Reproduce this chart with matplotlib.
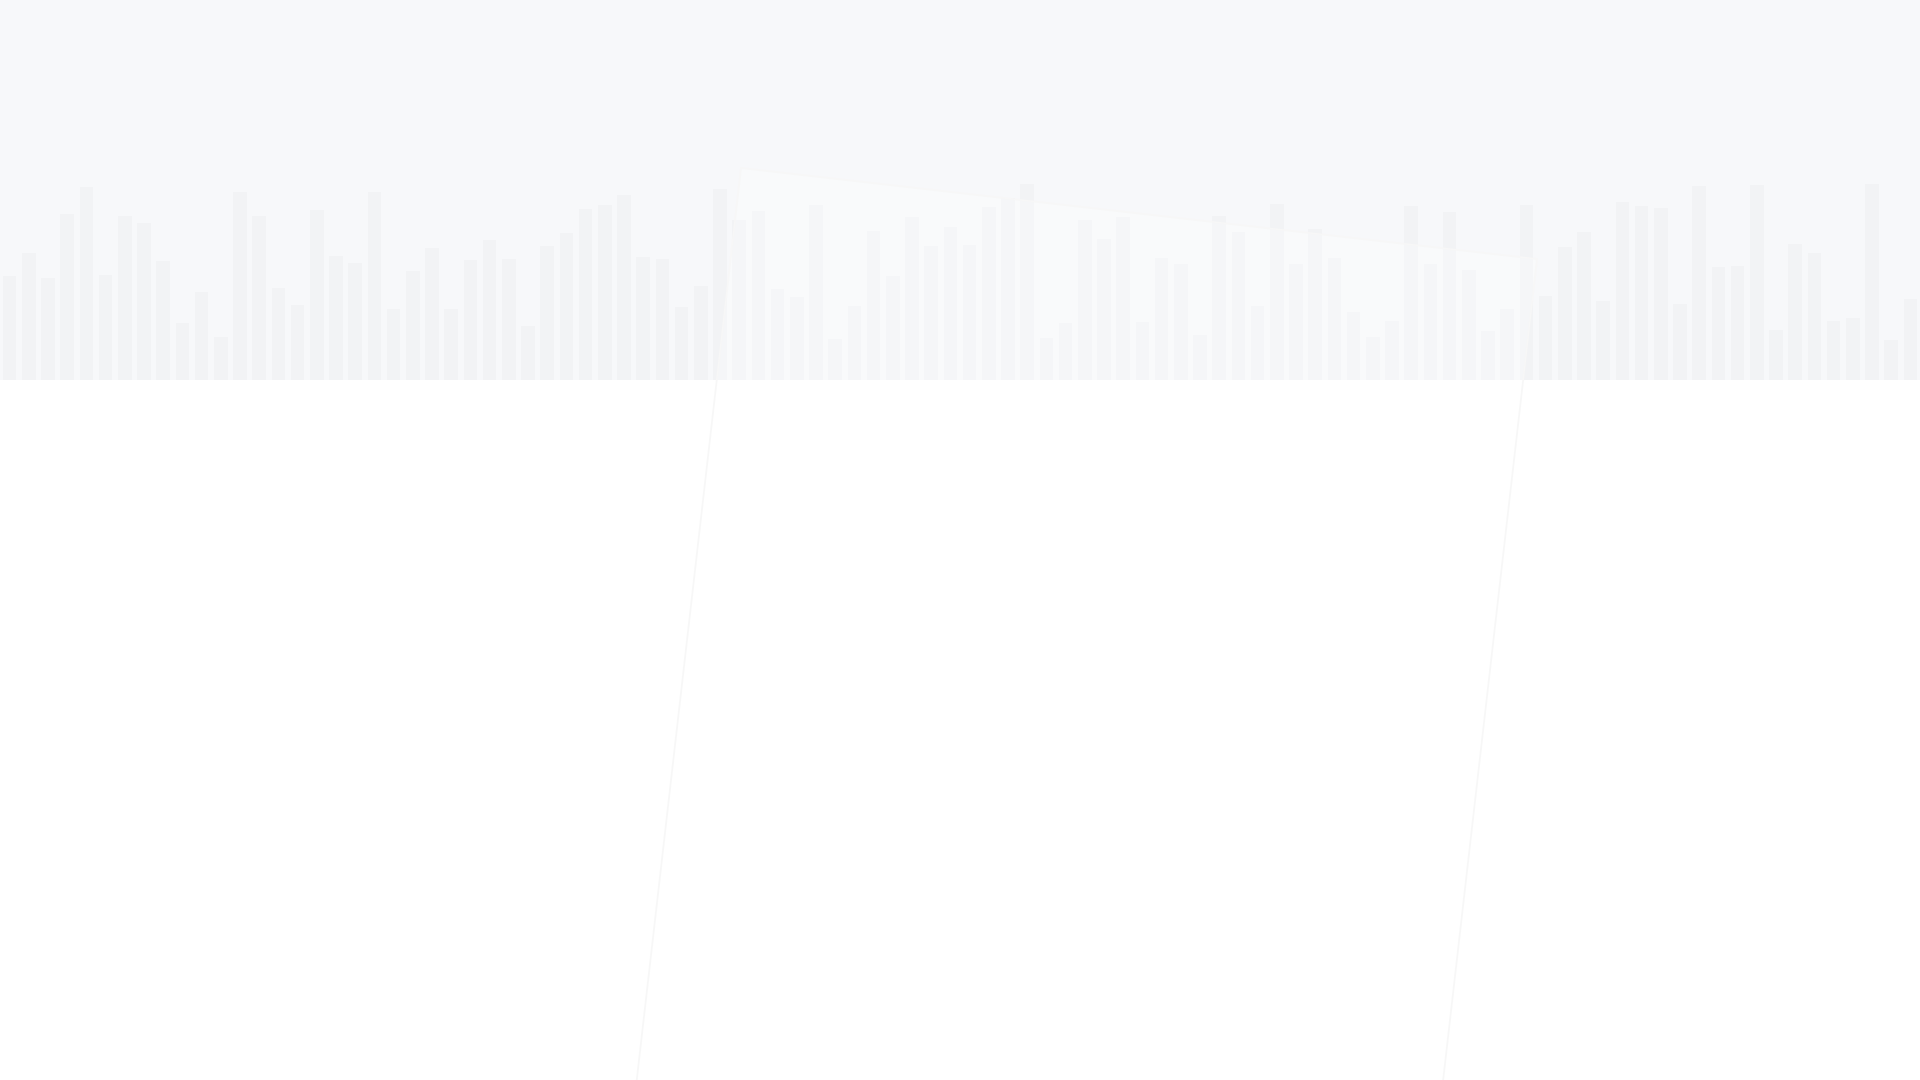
import matplotlib
matplotlib.use("Agg")
import matplotlib.pyplot as plt
from matplotlib.patches import Rectangle
import numpy as np

# Bar heights (in pixel-scale units), 100 bars
heights = [
    104, 127, 102, 166, 193, 105, 164, 157, 119, 57,
    88, 43, 188, 164, 92, 75, 170, 124, 117, 188,
    71, 109, 132, 71, 120, 140, 121, 54, 134, 147,
    171, 175, 185, 123, 121, 73, 94, 191, 160, 169,
    91, 83, 175, 41, 74, 149, 104, 163, 134, 153,
    135, 173, 182, 196, 42, 57, 160, 141, 163, 58,
    122, 116, 45, 164, 148, 74, 176, 116, 151, 122,
    68, 43, 59, 174, 116, 168, 110, 49, 71, 175,
    84, 133, 148, 79, 178, 174, 172, 76, 194, 113,
    114, 195, 50, 136, 127, 59, 62, 196, 40, 81,
]
positions = np.arange(len(heights)) + 0.5

W, H = 1920, 1080
band_h = 380

fig = plt.figure(figsize=(19.2, 10.8), dpi=100, facecolor="white")

# top band with bars
ax = fig.add_axes([0, (H - band_h) / H, 1, band_h / H])
ax.bar(positions, heights, width=0.7, color="#f2f3f5", linewidth=0)
ax.set_xlim(0, len(heights))
ax.set_ylim(0, band_h)
ax.axis("off")
ax.add_patch(Rectangle((0, 0), 1, 1, transform=ax.transAxes,
                       facecolor="#f7f8fa", zorder=-1, linewidth=0))

# overlay axes in pixel coordinates for the tilted card
ov = fig.add_axes([0, 0, 1, 1])
ov.set_xlim(0, W)
ov.set_ylim(0, H)
ov.axis("off")
ov.patch.set_alpha(0)

theta = np.degrees(np.arctan2(-91, 796))
card_w = np.hypot(796, 91)
card_h = 1000
top_left = np.array([741.0, H - 168.0])
down = np.array([np.sin(np.radians(theta)), -np.cos(np.radians(theta))])
origin = top_left + card_h * down
ov.add_patch(Rectangle(tuple(origin), card_w, card_h, angle=theta,
                       facecolor=(1, 1, 1, 0.3), edgecolor="#f7f7f7",
                       linewidth=1.2))

fig.savefig("out.png", dpi=100, facecolor="white")
